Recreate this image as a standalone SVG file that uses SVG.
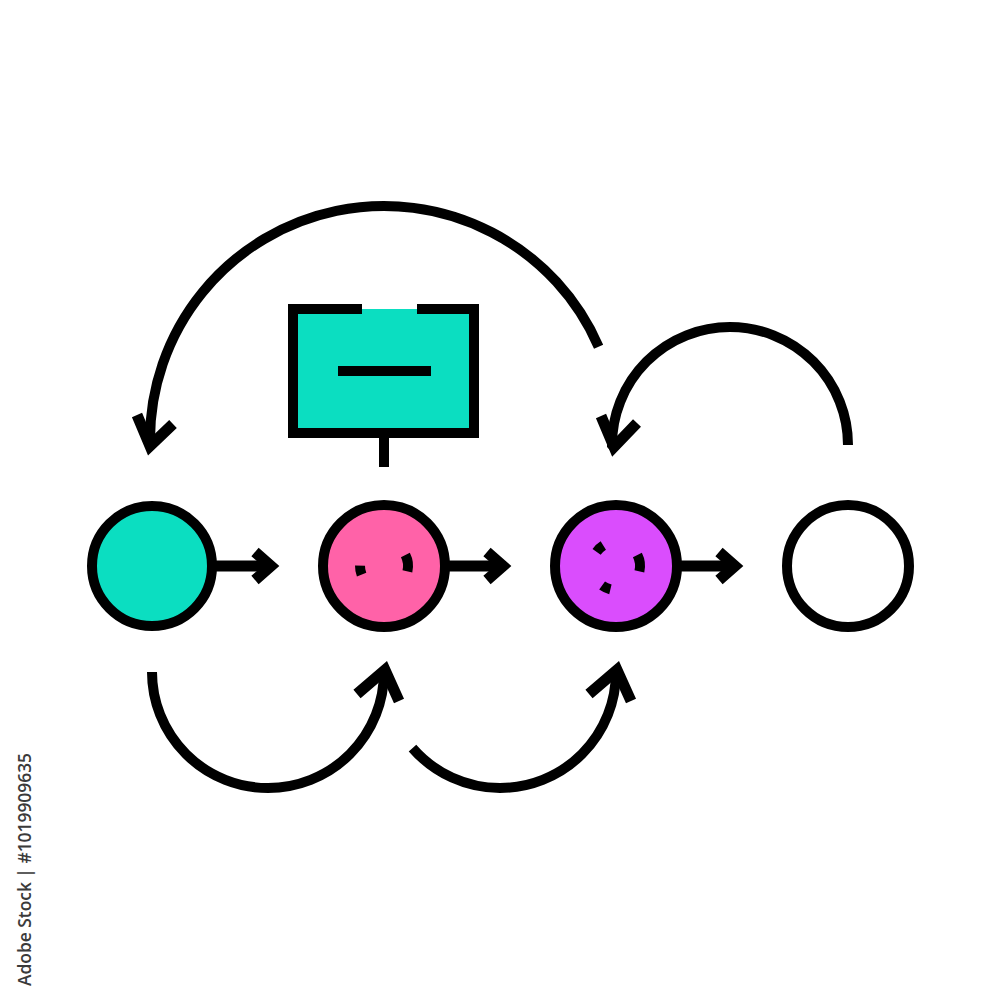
<svg xmlns="http://www.w3.org/2000/svg" width="1000" height="1000" viewBox="0 0 1000 1000">
  <style>
    .ln { fill: none; stroke: #000; stroke-width: 10; stroke-linecap: butt; stroke-linejoin: miter; stroke-miterlimit: 10; }
    .arr { fill: none; stroke: #000; stroke-width: 11; stroke-linecap: butt; stroke-linejoin: miter; stroke-miterlimit: 10; }
    .node { stroke: #000; stroke-width: 10; }
    .dash { fill: none; stroke: #000; stroke-width: 10; stroke-linecap: butt; }
    .teal { fill: #0BDEC1; }
    .pink { fill: #FF62A8; }
    .purple { fill: #DA4DFD; }
    .wm { font-family: "Open Sans", "Liberation Sans", sans-serif; font-size: 18px; font-weight: 600; fill: #3a3a3a; }
  </style>
  <rect width="1000" height="1000" fill="#fff"/>

  <g id="node-box">
    <rect class="teal" x="293" y="309" width="181" height="124"/>
    <path class="ln" d="M362,309 L293,309 L293,433 L474,433 L474,309 L417,309"/>
    <line class="ln" x1="338" y1="371" x2="431" y2="371"/>
    <line class="ln" x1="384" y1="433" x2="384" y2="467"/>
  </g>

  <g id="node-1">
    <circle class="node teal" cx="152" cy="566" r="60"/>
  </g>
  <g id="node-2">
    <circle class="node pink" cx="384" cy="566" r="61"/>
    <path class="dash" d="M361.6,574.6 A24,24 0 0 1 360.0,565.6"/>
    <path class="dash" d="M405.4,555.1 A24,24 0 0 1 407.4,571.4"/>
  </g>
  <g id="node-3">
    <circle class="node purple" cx="616" cy="566" r="61"/>
    <path class="dash" d="M596.6,551.9 A24,24 0 0 1 603.3,545.6"/>
    <path class="dash" d="M637.4,555.1 A24,24 0 0 1 639.4,571.4"/>
    <path class="dash" d="M610.4,589.3 A24,24 0 0 1 602.1,585.5"/>
  </g>
  <g id="node-4">
    <circle class="node" fill="#fff" cx="848" cy="566" r="61"/>
  </g>

  <g id="connectors">
    <!-- straight arrows -->
    <line class="arr" x1="212" y1="566" x2="271" y2="566"/>
    <polyline class="arr" points="255,552 271,566 255,580"/>
    <line class="arr" x1="444" y1="566" x2="503" y2="566"/>
    <polyline class="arr" points="487,552 503,566 487,580"/>
    <line class="arr" x1="676" y1="566" x2="735" y2="566"/>
    <polyline class="arr" points="719,552 735,566 719,580"/>

    <!-- big top arc -->
    <path class="ln" d="M598.6,346.7 A234,234 0 0 0 150,440 L150,446"/>
    <polyline class="arr" points="137,415 150,446 173,424"/>

    <!-- small right arc -->
    <path class="ln" d="M848,445 A118,118 0 0 0 730,327 A118,118 0 0 0 612,445 L614,447"/>
    <polyline class="arr" points="601,416 614,447 637,423"/>

    <!-- bottom arc 1 -->
    <path class="ln" d="M152,672 A116,116 0 0 0 268,788 A116,116 0 0 0 384,672 L385,670"/>
    <polyline class="arr" points="357,694 385,670 399,701"/>

    <!-- bottom arc 2 -->
    <path class="ln" d="M412.5,748.1 A116,116 0 0 0 500,788 A116,116 0 0 0 616,672 L617,670"/>
    <polyline class="arr" points="589,694 617,670 631,701"/>
  </g>

  <text class="wm" transform="translate(31,986) rotate(-90)" x="0" y="0" textLength="233" lengthAdjust="spacingAndGlyphs">Adobe Stock | #1019909635</text>
</svg>
